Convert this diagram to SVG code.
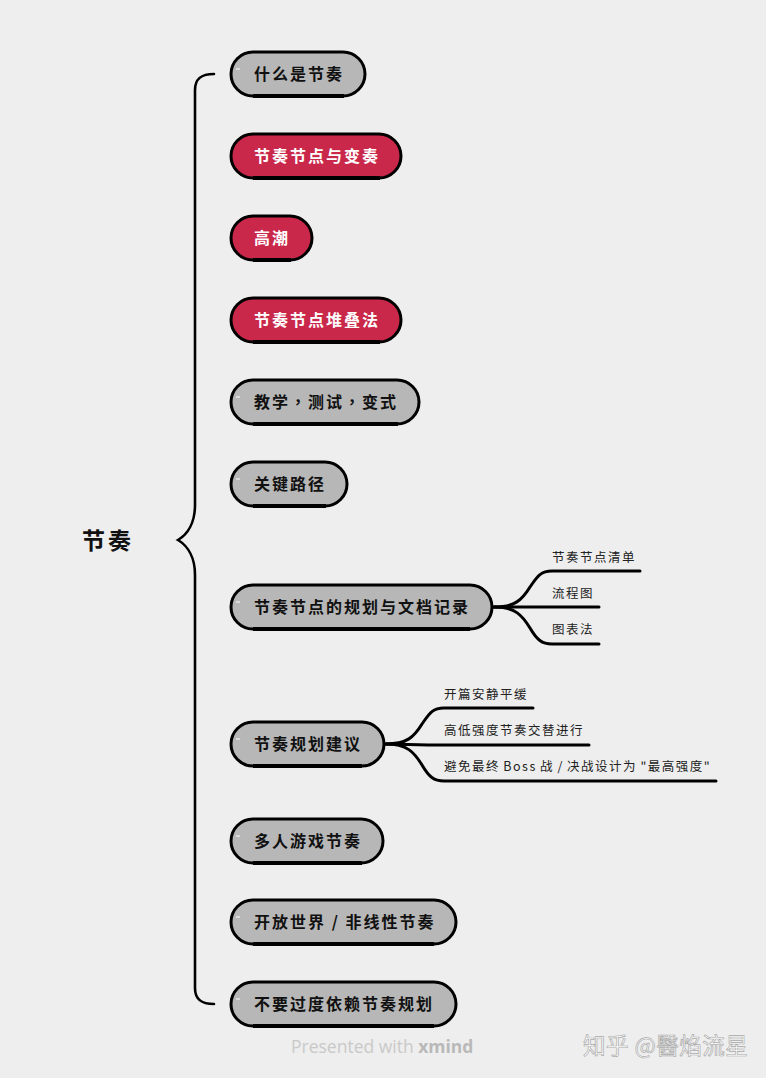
<svg xmlns="http://www.w3.org/2000/svg" width="766" height="1078" viewBox="0 0 766 1078">
<style>
text{font-family:"Noto Sans CJK SC","Noto Sans",sans-serif}
.box{stroke:#000;stroke-width:3;fill:#b7b7b7}
.low{fill:none;stroke:#000;stroke-width:3.8;stroke-linecap:butt}
.hot .box{fill:#c9284a}
.t{font-size:16px;font-weight:700;letter-spacing:2px;fill:#111}
.hot .t{fill:#fff}
.s{font-size:12.5px;letter-spacing:1.5px;fill:#222}
.c{fill:none;stroke:#000;stroke-width:2.6;stroke-linecap:round}
.n{fill:none;stroke:#000;stroke-width:3;stroke-linecap:round}
.tick{stroke:#fff;stroke-width:1}
</style>
<rect width="766" height="1078" fill="#eeeeee"/>
<g id="connectors">
<path class="c" d="M214 74C202 74 195 78 195 90V505C195 522 188 534 178 540C188 546 195 558 195 575V988C195 1000 202 1004 214 1004"/>
<path class="n" d="M494 607C515 607 522 600 530 587C537 577 540 571 552 571H640"/>
<path class="n" d="M494 607H599"/>
<path class="n" d="M494 607C515 607 522 615 530 628C537 640 542 644 552 644H599"/>
<path class="n" d="M386 744C407 744 414 737 422 724C429 714 432 708 444 708H533"/>
<path class="n" d="M386 744C400 744 420 745 444 745H589"/>
<path class="n" d="M386 744C407 744 414 752 422 765C429 777 434 781 444 781H716"/>
</g>
<g id="root"><text x="82" y="549" font-weight="700" letter-spacing="3" fill="#111" style="font-size:23px">节奏</text></g>
<g id="n1"><rect class="box" x="231" y="52" width="134" height="44" rx="22"/><path class="low" d="M253 96H344"/><path class="tick" d="M236 69H240"/><text class="t" x="254" y="80">什么是节奏</text></g>
<g id="n2" class="hot"><rect class="box" x="231" y="134" width="170" height="44" rx="22"/><path class="low" d="M253 178H380"/><text class="t" x="254" y="162">节奏节点与变奏</text></g>
<g id="n3" class="hot"><rect class="box" x="231" y="216" width="81" height="44" rx="22"/><path class="low" d="M253 260H291"/><text class="t" x="254" y="244">高潮</text></g>
<g id="n4" class="hot"><rect class="box" x="231" y="298" width="170" height="44" rx="22"/><path class="low" d="M253 342H380"/><text class="t" x="254" y="326">节奏节点堆叠法</text></g>
<g id="n5"><rect class="box" x="231" y="380" width="188" height="44" rx="22"/><path class="low" d="M253 424H398"/><path class="tick" d="M236 397H240"/><text class="t" x="254" y="408" style="font-family:'Noto Sans CJK TC',sans-serif">教学，测试，变式</text></g>
<g id="n6"><rect class="box" x="231" y="462" width="116" height="44" rx="22"/><path class="low" d="M253 506H326"/><path class="tick" d="M236 479H240"/><text class="t" x="254" y="490">关键路径</text></g>
<g id="n7"><rect class="box" x="231" y="585" width="261" height="44" rx="22"/><path class="low" d="M253 629H470"/><path class="tick" d="M236 602H240"/><text class="t" x="254" y="613">节奏节点的规划与文档记录</text></g>
<g id="n8"><rect class="box" x="231" y="722" width="153" height="44" rx="22"/><path class="low" d="M253 766H362"/><path class="tick" d="M236 739H240"/><text class="t" x="254" y="750">节奏规划建议</text></g>
<g id="n9"><rect class="box" x="231" y="819" width="152" height="44" rx="22"/><path class="low" d="M253 863H362"/><path class="tick" d="M236 836H240"/><text class="t" x="254" y="847">多人游戏节奏</text></g>
<g id="n10"><rect class="box" x="231" y="900" width="225" height="44" rx="22"/><path class="low" d="M253 944H434"/><path class="tick" d="M236 917H240"/><text class="t" x="254" y="928">开放世界 / 非线性节奏</text></g>
<g id="n11"><rect class="box" x="231" y="982" width="225" height="44" rx="22"/><path class="low" d="M253 1026H434"/><path class="tick" d="M236 999H240"/><text class="t" x="254" y="1010">不要过度依赖节奏规划</text></g>
<g id="l1"><text class="s" x="552" y="562">节奏节点清单</text></g>
<g id="l2"><text class="s" x="552" y="598">流程图</text></g>
<g id="l3"><text class="s" x="552" y="634">图表法</text></g>
<g id="l4"><text class="s" x="444" y="699">开篇安静平缓</text></g>
<g id="l5"><text class="s" x="444" y="735">高低强度节奏交替进行</text></g>
<g id="l6"><text class="s" x="444" y="771" word-spacing="-1">避免最终 Boss 战 / 决战设计为 "最高强度"</text></g>
<text x="291" y="1053" fill="#c9c9c9" style="font-family:'Open Sans',sans-serif;font-size:17.5px">Presented with <tspan font-weight="700" fill="#b9b9b9">xmind</tspan></text>
<text x="583" y="1054" fill="#fff" stroke="#aaa" stroke-width=".7" letter-spacing=".5" style="font-size:22.5px">知乎 @醫焰流星</text>
</svg>
